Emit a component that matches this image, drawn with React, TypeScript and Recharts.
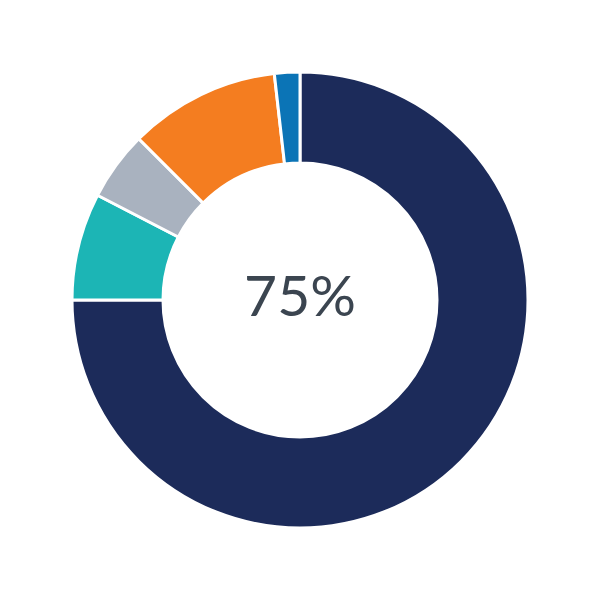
import { PieChart, Pie, Cell, Label } from 'recharts';

const segmentNames = ['Navy', 'Teal', 'Gray', 'Orange', 'Blue'];
const segmentValues = [75, 7.6, 4.9, 10.7, 1.8];
const segmentColors = ['#1c2b5a', '#1cb5b5', '#a9b2bf', '#f47d20', '#0b74b6'];
const centerLabel = '75%';

const data = segmentNames.map((name, i) => ({ name, value: segmentValues[i] }));

export default function App() {
  return (
    <div style={{ position: 'absolute', left: 0, top: 0 }}>
      <PieChart width={600} height={600}>
        <Pie
          data={data}
          dataKey="value"
          nameKey="name"
          cx={295}
          cy={295}
          innerRadius={137}
          outerRadius={228}
          startAngle={90}
          endAngle={-270}
          stroke="#ffffff"
          strokeWidth={3}
          isAnimationActive={false}
        >
          {data.map((d, i) => (
            <Cell key={d.name} fill={segmentColors[i]} />
          ))}
          <Label
            value={centerLabel}
            position="center"
            fill="#3b4550"
            dy={-4}
            style={{ fontSize: 57, fontFamily: 'Lato' }}
          />
        </Pie>
      </PieChart>
    </div>
  );
}
